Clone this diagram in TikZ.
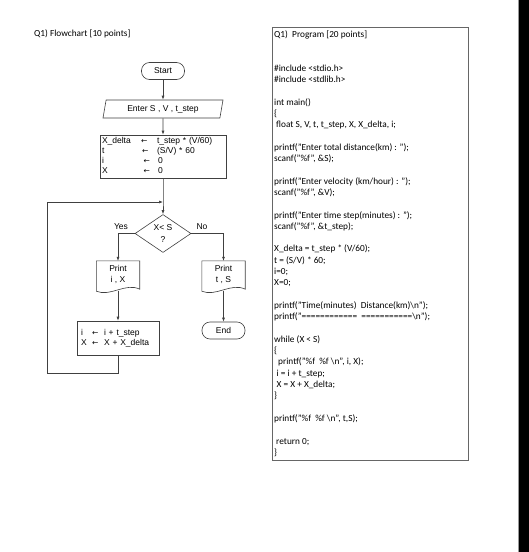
\documentclass[tikz,border=0pt]{standalone}
\usepackage{fontspec}
\setmainfont{Carlito}
\newfontfamily\fcfont{Liberation Sans}
\newfontfamily\arrfont{DejaVu Sans}
\newcommand{\larr}{{\arrfont\fontsize{7.5}{10}\selectfont ←}}
\usetikzlibrary{shapes.geometric,arrows.meta,calc}
\begin{document}
\begin{tikzpicture}[x=1pt,y=-1pt,
  fl/.style={draw=black!75, line width=0.6pt},
  arr/.style={draw=black!75, line width=0.6pt, -{Latex[length=4pt,width=3pt]}},
  fctext/.style={font={\fcfont\fontsize{8.5}{10}\selectfont}},
  term/.style={fl, fctext, rounded corners=8pt, minimum width=43pt, minimum height=17pt, inner sep=0pt},
  procbox/.style={fl, fctext, align=left, inner ysep=0pt},
  docnode/.style={fctext, align=center, minimum width=43pt, minimum height=27pt, inner sep=0pt, font={\fcfont\fontsize{8.5}{11}\selectfont}},
  lbl/.style={fctext, inner sep=0pt},
  codefont/.style={font={\fontsize{9.3}{11.3}\selectfont}}
]
\useasboundingbox (0,0) rectangle (529,552);
\fill[white] (0,0) rectangle (529,552);
% right black bar
\fill[black] (519,0) rectangle (529,552);
\draw[black!40, line width=0.6pt] (518.3,0) -- (518.3,552);

% title
\node[anchor=west, codefont, inner sep=0pt] (title) at (34,33.5) {Q1) Flowchart [10 points]};

% flowchart nodes
\node[term] (start) at (163,71) {Start};
\node[fl, fctext, trapezium, trapezium left angle=68, trapezium right angle=112,
      trapezium stretches body, minimum width=120pt, minimum height=18pt, inner sep=0pt] (input) at (163,109) {Enter S , V , t\_step};
\node[procbox, text width=122pt, inner xsep=2pt, minimum height=43pt] (assign) at (163,156.5) {%
\begin{tabular}{@{}p{39pt}@{}p{16pt}@{}l@{}}
X\_delta & \larr & t\_step * (V/60)\\
t & \hspace*{1pt}\larr & (S/V) * 60\\
i & \hspace*{2.5pt}\larr & \hspace*{1pt}0\\
X & \hspace*{2.5pt}\larr & \hspace*{1pt}0
\end{tabular}};
\coordinate (merge) at (163,202);
\node[fl, diamond, aspect=1.45, minimum width=56pt, minimum height=38pt, inner sep=0pt, align=center,
      font={\fcfont\fontsize{8.5}{12}\selectfont}] (dec) at (163,233.5) {X< S\\?};
\node[lbl] (yes) at (121,227) {Yes};
\node[lbl] (no) at (202,227) {No};
\node[docnode] (p1) at (118,274.5) {Print\\i , X};
\node[docnode] (p2) at (223.5,274.5) {Print\\t , S};
\node[procbox, text width=74pt, inner xsep=4pt, minimum height=34pt] (upd) at (118,338) {%
\begin{tabular}{@{}p{11pt}@{}p{12pt}@{}l@{}}
i & \larr & i + t\_step\\
X & \larr & X + X\_delta
\end{tabular}};
\node[term] (end) at (223.5,330.5) {End};
\coordinate (lb) at (47,373.5);

% document outlines
\foreach \p in {p1,p2}{
  \draw[fl] (\p.north west) -- (\p.north east) -- ($(\p.south east)+(0,1)$)
    .. controls ($(\p.south east)+(-14,-6)$) and ($(\p.south west)+(14,9)$) .. ($(\p.south west)+(0,3)$) -- cycle;
}

% connectors
\draw[arr] (start) -- (input);
\draw[arr] (input) -- (assign);
\draw[arr] (assign) -- (merge) -- (dec.north);
\draw[arr] (dec.west) -| (p1.north);
\draw[arr] (dec.east) -| (p2.north);
\draw[arr] ($(p1.south)+(0,2.5)$) -- (upd.north);
\draw[arr] ($(p2.south)+(0,2.5)$) -- (end.north);
\draw[arr] (upd.south) |- (lb) |- (merge);

% program panel
\node[draw=black!60, line width=0.6pt, minimum width=196.5pt, minimum height=433pt, anchor=north west, inner sep=0pt] (codebox) at (271.5,27) {};
\node[anchor=north west, inner sep=0pt, align=left, codefont] (code) at (274,29) {%
\rule{0pt}{8pt}Q1)\ \ Program [20 points]\\
\mbox{}\\
\mbox{}\\
\#include <stdio.h>\\
\#include <stdlib.h>\\
\mbox{}\\
int main()\\
\{\\
\hspace*{2pt}float S, V, t, t\_step, X, X\_delta, i;\\
\mbox{}\\
printf("Enter total distance(km) : ");\\
scanf("\%f", \&S);\\
\mbox{}\\
printf("Enter velocity (km/hour) : ");\\
scanf("\%f", \&V);\\
\mbox{}\\
printf("Enter time step(minutes) : ");\\
scanf("\%f", \&t\_step);\\
\mbox{}\\
X\_delta = t\_step * (V/60);\\
t = (S/V) * 60;\\
i=0;\\
X=0;\\
\mbox{}\\
printf("Time(minutes)\ \ Distance(km)\textbackslash n");\\
printf("============\ \ ===========\textbackslash n");\\
\mbox{}\\
while (X < S)\\
\{\\
\hspace*{4pt}printf("\%f\ \ \%f \textbackslash n", i, X);\\
\hspace*{2.5pt}i = i + t\_step;\\
\hspace*{2.5pt}X = X + X\_delta;\\
\}\\
\mbox{}\\
printf("\%f\ \ \%f \textbackslash n", t,S);\\
\mbox{}\\
\hspace*{2pt}return 0;\\
\}};
\end{tikzpicture}
\end{document}
